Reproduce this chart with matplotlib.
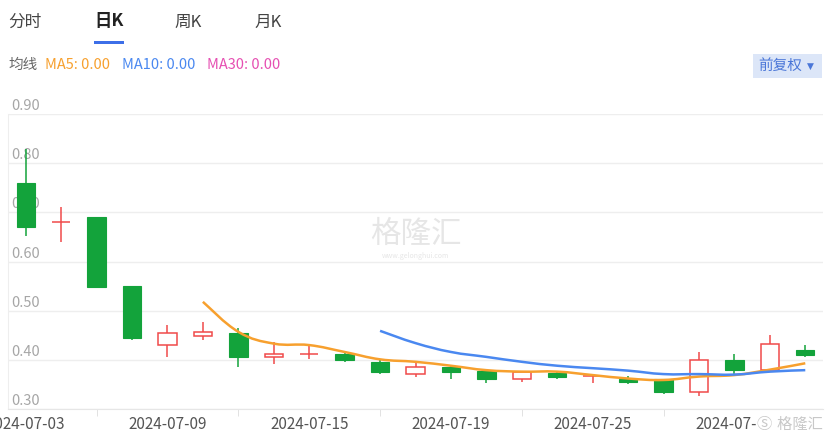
import matplotlib.pyplot as plt
from matplotlib.patches import Rectangle, PathPatch
from matplotlib.path import Path
import numpy as np

plt.rcParams['font.family'] = ['Noto Sans CJK SC', 'DejaVu Sans']

# daily K data
dates = ['2024-07-03', '2024-07-04', '2024-07-05', '2024-07-08', '2024-07-09',
         '2024-07-10', '2024-07-11', '2024-07-12', '2024-07-15', '2024-07-16',
         '2024-07-17', '2024-07-18', '2024-07-19', '2024-07-22', '2024-07-23',
         '2024-07-24', '2024-07-25', '2024-07-26', '2024-07-29', '2024-07-30',
         '2024-07-31', '2024-08-01', '2024-08-02']
opens = [0.760, 0.680, 0.690, 0.550, 0.430, 0.449, 0.455, 0.405, 0.412, 0.411,
         0.396, 0.371, 0.386, 0.377, 0.361, 0.374, 0.367, 0.362, 0.361, 0.335,
         0.400, 0.380, 0.421]
closes = [0.670, 0.680, 0.549, 0.445, 0.455, 0.457, 0.405, 0.412, 0.412, 0.400,
          0.376, 0.386, 0.376, 0.361, 0.376, 0.366, 0.367, 0.355, 0.335, 0.400,
          0.379, 0.432, 0.410]
highs = [0.829, 0.710, 0.690, 0.550, 0.470, 0.476, 0.464, 0.436, 0.430, 0.416,
         0.400, 0.396, 0.390, 0.381, 0.376, 0.378, 0.372, 0.367, 0.361, 0.416,
         0.411, 0.451, 0.431]
lows = [0.651, 0.639, 0.549, 0.440, 0.406, 0.440, 0.386, 0.391, 0.401, 0.396,
        0.371, 0.366, 0.361, 0.352, 0.355, 0.361, 0.352, 0.351, 0.330, 0.326,
        0.372, 0.376, 0.406]
ma5 = [np.nan] * 5 + [0.518, 0.457, 0.433, 0.430, 0.416, 0.401, 0.396, 0.388,
                      0.379, 0.376, 0.376, 0.369, 0.362, 0.359, 0.366, 0.369,
                      0.380, 0.393]
ma10 = [np.nan] * 10 + [0.459, 0.434, 0.416, 0.406, 0.396, 0.388, 0.383, 0.378,
                        0.371, 0.371, 0.370, 0.376, 0.379]
yticks = [0.30, 0.40, 0.50, 0.60, 0.70, 0.80, 0.90]
label_idx = [0, 4, 8, 12, 16, 20]
minor_idx = [2, 6, 10, 14, 18]

red = '#f04a4a'
green = '#13a33b'
c_ma5 = '#f7a02e'
c_ma10 = '#4a88f0'
c_ma30 = '#e64fb2'


def smooth_line(ax, xs, ys, color):
    # bezier curve through the points (echarts-like smooth line)
    pts = [(a, b) for a, b in zip(xs, ys) if not np.isnan(b)]
    p = np.array(pts, dtype=float)
    verts = [tuple(p[0])]
    codes = [Path.MOVETO]
    k = 0.2
    for i in range(len(p) - 1):
        p0 = p[i - 1] if i > 0 else p[i]
        p3 = p[i + 2] if i + 2 < len(p) else p[i + 1]
        c1 = p[i] + k * (p[i + 1] - p0)
        c2 = p[i + 1] - k * (p3 - p[i])
        verts += [tuple(c1), tuple(c2), tuple(p[i + 1])]
        codes += [Path.CURVE4] * 3
    ax.add_patch(PathPatch(Path(verts, codes), facecolor='none',
                           edgecolor=color, lw=1.8, zorder=4))


fig = plt.figure(figsize=(8.3, 4.37), dpi=100)
ax = fig.add_axes([8 / 830, 28 / 437, 815 / 830, 295 / 437])

x = np.arange(len(dates))
w = 0.52
for i in x:
    o, c, h, l = opens[i], closes[i], highs[i], lows[i]
    up = c >= o
    col = red if up else green
    ax.vlines(i, l, h, color=col, lw=1.1, zorder=2)
    bot = min(o, c)
    ht = max(abs(c - o), 0.0008)
    if up:
        ax.add_patch(Rectangle((i - w / 2, bot), w, ht, facecolor='white',
                               edgecolor=col, lw=1.1, zorder=3))
    else:
        ax.add_patch(Rectangle((i - w / 2, bot), w, ht, facecolor=col,
                               edgecolor=col, lw=0.8, zorder=3))

smooth_line(ax, x, ma5, c_ma5)
smooth_line(ax, x, ma10, c_ma10)

ax.set_xlim(-0.5, len(dates) - 0.5)
ax.set_ylim(0.30, 0.90)
ax.set_yticks(yticks)
ax.yaxis.grid(True, color='#eeeeee', lw=1)
ax.tick_params(axis='y', length=0, labelleft=False)
for v in yticks:
    ax.text(0.004, v + 0.002, '%.2f' % v, transform=ax.get_yaxis_transform(),
            ha='left', va='bottom', fontsize=10.5, color='#a6a6a6', zorder=1)

ax.set_xticks(label_idx)
ax.set_xticklabels([dates[i] for i in label_idx], fontsize=11, color='#555555')
ax.set_xticks(minor_idx, minor=True)
ax.tick_params(axis='x', which='major', length=0, pad=5)
ax.tick_params(axis='x', which='minor', length=5, color='#dddddd')
for s in ['top', 'right']:
    ax.spines[s].set_visible(False)
ax.spines['left'].set_color('#eeeeee')
ax.spines['bottom'].set_color('#e6e6e6')

# watermark
ax.text(0.5, 0.59, '格隆汇', transform=ax.transAxes, ha='center', va='center',
        fontsize=22, color='#e6e6e6', zorder=1)
ax.text(0.5, 0.52, 'www.gelonghui.com', transform=ax.transAxes, ha='center',
        va='center', fontsize=5, color='#e6e6e6', zorder=1)

# header tabs
fig.text(8 / 830, 1 - 22 / 437, '分时', fontsize=12, color='#444444', va='center')
fig.text(94 / 830, 1 - 21 / 437, '日K', fontsize=12.5, color='#222222',
         va='center', fontweight='bold')
fig.text(174 / 830, 1 - 22 / 437, '周K', fontsize=12, color='#444444', va='center')
fig.text(254 / 830, 1 - 22 / 437, '月K', fontsize=12, color='#444444', va='center')
fig.add_artist(Rectangle((94 / 830, 1 - 44 / 437), 30 / 830, 3 / 437,
                         facecolor='#3d6fe8', edgecolor='none',
                         transform=fig.transFigure))

# MA legend line
fig.text(8 / 830, 1 - 65 / 437, '均线', fontsize=10.5, color='#666666', va='center')
fig.text(45 / 830, 1 - 65 / 437, 'MA5: 0.00', fontsize=10.5, color=c_ma5, va='center')
fig.text(122 / 830, 1 - 65 / 437, 'MA10: 0.00', fontsize=10.5, color=c_ma10, va='center')
fig.text(207 / 830, 1 - 65 / 437, 'MA30: 0.00', fontsize=10.5, color=c_ma30, va='center')

# 前复权 button
fig.add_artist(Rectangle((753 / 830, 1 - 78 / 437), 69 / 830, 24 / 437,
                         facecolor='#dce6f8', edgecolor='none',
                         transform=fig.transFigure))
fig.text(758 / 830, 1 - 66 / 437, '前复权', fontsize=10.5, color='#4a76d8', va='center')
fig.text(807 / 830, 1 - 66 / 437, '▼', fontsize=6.5, color='#4a76d8',
         va='center', family='DejaVu Sans')

# corner logo
fig.text(757 / 830, 1 - 424 / 437, '\u24c8 格隆汇', fontsize=11, color='#c8c8c8',
         va='center', family=['DejaVu Sans', 'Noto Sans CJK SC'],
         bbox=dict(facecolor='white', edgecolor='none', pad=1))

plt.savefig('out.png', dpi=100)
